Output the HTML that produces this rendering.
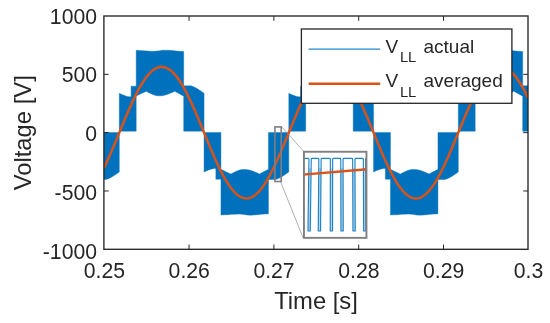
<!DOCTYPE html>
<html><head><meta charset="utf-8"><title>Voltage plot</title>
<style>
html,body{margin:0;padding:0;background:#fff;}
body{width:550px;height:323px;overflow:hidden;}
svg{display:block;font-family:"Liberation Sans",Arial,Helvetica,sans-serif;fill:#262626;}
</style></head><body>
<svg width="550" height="323" viewBox="0 0 550 323">
<rect width="550" height="323" fill="#fff"/>
<defs><clipPath id="ax"><rect x="103.9" y="16.0" width="424.1" height="233.3"/></clipPath>
<clipPath id="ins"><rect x="303.95" y="151.75" width="62.49999999999998" height="86.1"/></clipPath></defs>
<g clip-path="url(#ax)">
<path d="M34.55,132.45 L34.55,171.95 L36.52,171.04 L38.48,170.20 L40.45,169.48 L42.42,168.92 L44.38,168.57 L46.35,168.45 L46.35,179.15 L51.45,179.15 L51.45,214.95 L55.07,214.86 L58.69,214.64 L62.31,214.36 L65.93,214.14 L69.55,214.05 L72.30,214.21 L75.05,214.60 L77.80,214.99 L80.55,215.15 L84.23,215.03 L87.91,214.70 L91.59,214.30 L95.27,213.97 L98.95,213.85 L98.95,179.45 L106.05,179.45 L108.26,178.73 L110.47,177.68 L112.67,176.44 L114.88,175.08 L117.09,173.61 L119.30,172.05 L119.30,132.45 L98.95,132.45 L98.95,169.15 L96.72,170.38 L94.50,171.60 L92.28,172.82 L90.05,174.05 L87.47,172.86 L84.88,171.75 L82.30,170.80 L79.72,170.07 L77.13,169.61 L74.55,169.45 L72.37,169.61 L70.18,170.07 L68.00,170.80 L65.82,171.75 L63.63,172.86 L61.45,174.05 L58.95,172.88 L56.45,171.70 L53.95,170.53 L51.45,169.35 L51.45,132.45Z M119.30,131.15 L119.30,93.35 L121.27,94.26 L123.23,95.10 L125.20,95.82 L127.17,96.38 L129.13,96.73 L131.10,96.85 L131.10,86.15 L136.20,86.15 L136.20,50.35 L139.82,50.44 L143.44,50.66 L147.06,50.94 L150.68,51.16 L154.30,51.25 L157.05,51.09 L159.80,50.70 L162.55,50.31 L165.30,50.15 L168.98,50.27 L172.66,50.60 L176.34,51.00 L180.02,51.33 L183.70,51.45 L183.70,85.85 L190.80,85.85 L193.01,86.57 L195.22,87.62 L197.43,88.86 L199.63,90.22 L201.84,91.69 L204.05,93.25 L204.05,131.15 L183.70,131.15 L183.70,96.15 L181.47,94.93 L179.25,93.70 L177.03,92.48 L174.80,91.25 L172.22,92.44 L169.63,93.55 L167.05,94.50 L164.47,95.23 L161.88,95.69 L159.30,95.85 L157.12,95.69 L154.93,95.23 L152.75,94.50 L150.57,93.55 L148.38,92.44 L146.20,91.25 L143.70,92.43 L141.20,93.60 L138.70,94.78 L136.20,95.95 L136.20,131.15Z M204.05,132.45 L204.05,171.95 L206.02,171.04 L207.98,170.20 L209.95,169.48 L211.92,168.92 L213.88,168.57 L215.85,168.45 L215.85,179.15 L220.95,179.15 L220.95,214.95 L224.57,214.86 L228.19,214.64 L231.81,214.36 L235.43,214.14 L239.05,214.05 L241.80,214.21 L244.55,214.60 L247.30,214.99 L250.05,215.15 L253.73,215.03 L257.41,214.70 L261.09,214.30 L264.77,213.97 L268.45,213.85 L268.45,179.45 L275.55,179.45 L277.76,178.73 L279.97,177.68 L282.18,176.44 L284.38,175.08 L286.59,173.61 L288.80,172.05 L288.80,132.45 L268.45,132.45 L268.45,169.15 L266.23,170.38 L264.00,171.60 L261.78,172.82 L259.55,174.05 L256.97,172.86 L254.38,171.75 L251.80,170.80 L249.22,170.07 L246.63,169.61 L244.05,169.45 L241.87,169.61 L239.68,170.07 L237.50,170.80 L235.32,171.75 L233.13,172.86 L230.95,174.05 L228.45,172.88 L225.95,171.70 L223.45,170.53 L220.95,169.35 L220.95,132.45Z M288.80,131.15 L288.80,93.35 L290.77,94.26 L292.73,95.10 L294.70,95.82 L296.67,96.38 L298.63,96.73 L300.60,96.85 L300.60,86.15 L305.70,86.15 L305.70,50.35 L309.32,50.44 L312.94,50.66 L316.56,50.94 L320.18,51.16 L323.80,51.25 L326.55,51.09 L329.30,50.70 L332.05,50.31 L334.80,50.15 L338.48,50.27 L342.16,50.60 L345.84,51.00 L349.52,51.33 L353.20,51.45 L353.20,85.85 L360.30,85.85 L362.51,86.57 L364.72,87.62 L366.93,88.86 L369.13,90.22 L371.34,91.69 L373.55,93.25 L373.55,131.15 L353.20,131.15 L353.20,96.15 L350.98,94.93 L348.75,93.70 L346.53,92.48 L344.30,91.25 L341.72,92.44 L339.13,93.55 L336.55,94.50 L333.97,95.23 L331.38,95.69 L328.80,95.85 L326.62,95.69 L324.43,95.23 L322.25,94.50 L320.07,93.55 L317.88,92.44 L315.70,91.25 L313.20,92.43 L310.70,93.60 L308.20,94.78 L305.70,95.95 L305.70,131.15Z M373.55,132.45 L373.55,171.95 L375.52,171.04 L377.48,170.20 L379.45,169.48 L381.42,168.92 L383.38,168.57 L385.35,168.45 L385.35,179.15 L390.45,179.15 L390.45,214.95 L394.07,214.86 L397.69,214.64 L401.31,214.36 L404.93,214.14 L408.55,214.05 L411.30,214.21 L414.05,214.60 L416.80,214.99 L419.55,215.15 L423.23,215.03 L426.91,214.70 L430.59,214.30 L434.27,213.97 L437.95,213.85 L437.95,179.45 L445.05,179.45 L447.26,178.73 L449.47,177.68 L451.68,176.44 L453.88,175.08 L456.09,173.61 L458.30,172.05 L458.30,132.45 L437.95,132.45 L437.95,169.15 L435.73,170.38 L433.50,171.60 L431.28,172.82 L429.05,174.05 L426.47,172.86 L423.88,171.75 L421.30,170.80 L418.72,170.07 L416.13,169.61 L413.55,169.45 L411.37,169.61 L409.18,170.07 L407.00,170.80 L404.82,171.75 L402.63,172.86 L400.45,174.05 L397.95,172.88 L395.45,171.70 L392.95,170.53 L390.45,169.35 L390.45,132.45Z M458.30,131.15 L458.30,93.35 L460.27,94.26 L462.23,95.10 L464.20,95.82 L466.17,96.38 L468.13,96.73 L470.10,96.85 L470.10,86.15 L475.20,86.15 L475.20,50.35 L478.82,50.44 L482.44,50.66 L486.06,50.94 L489.68,51.16 L493.30,51.25 L496.05,51.09 L498.80,50.70 L501.55,50.31 L504.30,50.15 L507.98,50.27 L511.66,50.60 L515.34,51.00 L519.02,51.33 L522.70,51.45 L522.70,85.85 L529.80,85.85 L532.01,86.57 L534.22,87.62 L536.42,88.86 L538.63,90.22 L540.84,91.69 L543.05,93.25 L543.05,131.15 L522.70,131.15 L522.70,96.15 L520.48,94.93 L518.25,93.70 L516.02,92.48 L513.80,91.25 L511.22,92.44 L508.63,93.55 L506.05,94.50 L503.47,95.23 L500.88,95.69 L498.30,95.85 L496.12,95.69 L493.93,95.23 L491.75,94.50 L489.57,93.55 L487.38,92.44 L485.20,91.25 L482.70,92.43 L480.20,93.60 L477.70,94.78 L475.20,95.95 L475.20,131.15Z" fill="#0072BD" stroke="#0072BD" stroke-width="0.4" stroke-linejoin="round"/>
<path d="M103.90,168.21 L104.90,166.13 L105.90,164.01 L106.90,161.84 L107.90,159.64 L108.90,157.39 L109.90,155.12 L110.90,152.81 L111.90,150.47 L112.90,148.11 L113.90,145.73 L114.90,143.33 L115.90,140.92 L116.90,138.50 L117.90,136.06 L118.90,133.63 L119.90,131.19 L120.90,128.75 L121.90,126.32 L122.90,123.90 L123.90,121.48 L124.90,119.09 L125.90,116.71 L126.90,114.36 L127.90,112.03 L128.90,109.73 L129.90,107.46 L130.90,105.22 L131.90,103.02 L132.90,100.87 L133.90,98.75 L134.90,96.68 L135.90,94.67 L136.90,92.70 L137.90,90.79 L138.90,88.94 L139.90,87.15 L140.90,85.42 L141.90,83.75 L142.90,82.15 L143.90,80.62 L144.90,79.17 L145.90,77.78 L146.90,76.47 L147.90,75.24 L148.90,74.09 L149.90,73.02 L150.90,72.03 L151.90,71.12 L152.90,70.30 L153.90,69.56 L154.90,68.91 L155.90,68.35 L156.90,67.88 L157.90,67.49 L158.90,67.20 L159.90,66.99 L160.90,66.88 L161.90,66.85 L162.90,66.92 L163.90,67.07 L164.90,67.32 L165.90,67.66 L166.90,68.08 L167.90,68.59 L168.90,69.20 L169.90,69.88 L170.90,70.66 L171.90,71.52 L172.90,72.46 L173.90,73.49 L174.90,74.60 L175.90,75.79 L176.90,77.05 L177.90,78.40 L178.90,79.81 L179.90,81.30 L180.90,82.86 L181.90,84.49 L182.90,86.19 L183.90,87.95 L184.90,89.77 L185.90,91.64 L186.90,93.58 L187.90,95.57 L188.90,97.61 L189.90,99.70 L190.90,101.83 L191.90,104.01 L192.90,106.22 L193.90,108.47 L194.90,110.76 L195.90,113.07 L196.90,115.41 L197.90,117.78 L198.90,120.16 L199.90,122.57 L200.90,124.98 L201.90,127.41 L202.90,129.85 L203.90,132.28 L204.90,134.72 L205.90,137.16 L206.90,139.59 L207.90,142.01 L208.90,144.42 L209.90,146.81 L210.90,149.18 L211.90,151.53 L212.90,153.85 L213.90,156.15 L214.90,158.41 L215.90,160.63 L216.90,162.82 L217.90,164.97 L218.90,167.07 L219.90,169.12 L220.90,171.13 L221.90,173.08 L222.90,174.98 L223.90,176.81 L224.90,178.59 L225.90,180.31 L226.90,181.95 L227.90,183.54 L228.90,185.05 L229.90,186.49 L230.90,187.85 L231.90,189.14 L232.90,190.35 L233.90,191.48 L234.90,192.54 L235.90,193.51 L236.90,194.39 L237.90,195.19 L238.90,195.91 L239.90,196.53 L240.90,197.07 L241.90,197.53 L242.90,197.89 L243.90,198.16 L244.90,198.34 L245.90,198.44 L246.90,198.44 L247.90,198.35 L248.90,198.17 L249.90,197.90 L250.90,197.55 L251.90,197.10 L252.90,196.56 L253.90,195.94 L254.90,195.23 L255.90,194.43 L256.90,193.55 L257.90,192.59 L258.90,191.54 L259.90,190.41 L260.90,189.20 L261.90,187.92 L262.90,186.56 L263.90,185.12 L264.90,183.61 L265.90,182.04 L266.90,180.39 L267.90,178.68 L268.90,176.90 L269.90,175.07 L270.90,173.18 L271.90,171.23 L272.90,169.23 L273.90,167.17 L274.90,165.07 L275.90,162.93 L276.90,160.74 L277.90,158.52 L278.90,156.26 L279.90,153.97 L280.90,151.64 L281.90,149.30 L282.90,146.93 L283.90,144.54 L284.90,142.13 L285.90,139.71 L286.90,137.28 L287.90,134.84 L288.90,132.41 L289.90,129.97 L290.90,127.53 L291.90,125.11 L292.90,122.69 L293.90,120.28 L294.90,117.90 L295.90,115.53 L296.90,113.19 L297.90,110.87 L298.90,108.59 L299.90,106.33 L300.90,104.12 L301.90,101.94 L302.90,99.80 L303.90,97.71 L304.90,95.67 L305.90,93.68 L306.90,91.74 L307.90,89.86 L308.90,88.04 L309.90,86.27 L310.90,84.58 L311.90,82.94 L312.90,81.38 L313.90,79.89 L314.90,78.47 L315.90,77.12 L316.90,75.85 L317.90,74.66 L318.90,73.55 L319.90,72.51 L320.90,71.57 L321.90,70.70 L322.90,69.92 L323.90,69.23 L324.90,68.62 L325.90,68.10 L326.90,67.67 L327.90,67.33 L328.90,67.08 L329.90,66.92 L330.90,66.85 L331.90,66.87 L332.90,66.98 L333.90,67.19 L334.90,67.48 L335.90,67.86 L336.90,68.33 L337.90,68.88 L338.90,69.53 L339.90,70.26 L340.90,71.08 L341.90,71.98 L342.90,72.97 L343.90,74.04 L344.90,75.18 L345.90,76.41 L346.90,77.72 L347.90,79.10 L348.90,80.55 L349.90,82.07 L350.90,83.67 L351.90,85.33 L352.90,87.06 L353.90,88.85 L354.90,90.70 L355.90,92.61 L356.90,94.57 L357.90,96.58 L358.90,98.65 L359.90,100.76 L360.90,102.91 L361.90,105.11 L362.90,107.34 L363.90,109.61 L364.90,111.91 L365.90,114.24 L366.90,116.59 L367.90,118.97 L368.90,121.36 L369.90,123.77 L370.90,126.20 L371.90,128.63 L372.90,131.06 L373.90,133.50 L374.90,135.94 L375.90,138.37 L376.90,140.80 L377.90,143.21 L378.90,145.61 L379.90,148.00 L380.90,150.36 L381.90,152.69 L382.90,155.00 L383.90,157.28 L384.90,159.52 L385.90,161.73 L386.90,163.90 L387.90,166.02 L388.90,168.10 L389.90,170.13 L390.90,172.11 L391.90,174.04 L392.90,175.90 L393.90,177.71 L394.90,179.46 L395.90,181.14 L396.90,182.75 L397.90,184.30 L398.90,185.78 L399.90,187.18 L400.90,188.51 L401.90,189.76 L402.90,190.93 L403.90,192.02 L404.90,193.03 L405.90,193.96 L406.90,194.80 L407.90,195.56 L408.90,196.23 L409.90,196.82 L410.90,197.31 L411.90,197.72 L412.90,198.04 L413.90,198.26 L414.90,198.40 L415.90,198.45 L416.90,198.41 L417.90,198.27 L418.90,198.05 L419.90,197.74 L420.90,197.33 L421.90,196.84 L422.90,196.26 L423.90,195.60 L424.90,194.84 L425.90,194.00 L426.90,193.08 L427.90,192.07 L428.90,190.98 L429.90,189.82 L430.90,188.57 L431.90,187.25 L432.90,185.85 L433.90,184.38 L434.90,182.83 L435.90,181.22 L436.90,179.54 L437.90,177.80 L438.90,175.99 L439.90,174.13 L440.90,172.21 L441.90,170.23 L442.90,168.21 L443.90,166.13 L444.90,164.01 L445.90,161.84 L446.90,159.64 L447.90,157.39 L448.90,155.12 L449.90,152.81 L450.90,150.47 L451.90,148.11 L452.90,145.73 L453.90,143.33 L454.90,140.92 L455.90,138.50 L456.90,136.06 L457.90,133.63 L458.90,131.19 L459.90,128.75 L460.90,126.32 L461.90,123.90 L462.90,121.48 L463.90,119.09 L464.90,116.71 L465.90,114.36 L466.90,112.03 L467.90,109.73 L468.90,107.46 L469.90,105.22 L470.90,103.02 L471.90,100.87 L472.90,98.75 L473.90,96.68 L474.90,94.67 L475.90,92.70 L476.90,90.79 L477.90,88.94 L478.90,87.15 L479.90,85.42 L480.90,83.75 L481.90,82.15 L482.90,80.62 L483.90,79.17 L484.90,77.78 L485.90,76.47 L486.90,75.24 L487.90,74.09 L488.90,73.02 L489.90,72.03 L490.90,71.12 L491.90,70.30 L492.90,69.56 L493.90,68.91 L494.90,68.35 L495.90,67.88 L496.90,67.49 L497.90,67.20 L498.90,66.99 L499.90,66.88 L500.90,66.85 L501.90,66.92 L502.90,67.07 L503.90,67.32 L504.90,67.66 L505.90,68.08 L506.90,68.59 L507.90,69.20 L508.90,69.88 L509.90,70.66 L510.90,71.52 L511.90,72.46 L512.90,73.49 L513.90,74.60 L514.90,75.79 L515.90,77.05 L516.90,78.40 L517.90,79.81 L518.90,81.30 L519.90,82.86 L520.90,84.49 L521.90,86.19 L522.90,87.95 L523.90,89.77 L524.90,91.64 L525.90,93.58 L526.90,95.57 L527.90,97.61 L528.00,97.82" fill="none" stroke="#D95319" stroke-width="2.5" stroke-linejoin="round"/>
</g>
<path d="M189.07,249.3 v-4.8 M189.07,16.0 v4.8 M273.89,249.3 v-4.8 M273.89,16.0 v4.8 M358.71,249.3 v-4.8 M358.71,16.0 v4.8 M443.53,249.3 v-4.8 M443.53,16.0 v4.8 M103.9,74.33 h4.8 M528.0,74.33 h-4.8 M103.9,132.65 h4.8 M528.0,132.65 h-4.8 M103.9,190.98 h4.8 M528.0,190.98 h-4.8" stroke="#262626" stroke-width="1" fill="none"/>
<rect x="103.9" y="16.0" width="424.1" height="233.3" fill="none" stroke="#262626" stroke-width="1.35"/>
<g font-size="21.2px"><text x="104.40" y="277.9" text-anchor="middle">0.25</text><text x="189.22" y="277.9" text-anchor="middle">0.26</text><text x="274.04" y="277.9" text-anchor="middle">0.27</text><text x="358.86" y="277.9" text-anchor="middle">0.28</text><text x="443.68" y="277.9" text-anchor="middle">0.29</text><text x="528.50" y="277.9" text-anchor="middle">0.3</text><text x="97.0" y="24.10" text-anchor="end">1000</text><text x="97.0" y="81.92" text-anchor="end">500</text><text x="97.0" y="141.35" text-anchor="end">0</text><text x="97.0" y="200.08" text-anchor="end">-500</text><text x="97.0" y="258.80" text-anchor="end">-1000</text></g>
<text x="316" y="309" font-size="23.8px" text-anchor="middle">Time [s]</text>
<text transform="translate(31.3,132.8) rotate(-90)" font-size="23.8px" text-anchor="middle">Voltage [V]</text>
<!-- zoom marker -->
<rect x="274.9" y="126.9" width="6.3" height="54.6" fill="none" stroke="#7f7f7f" stroke-width="1.6"/>
<path d="M281.8,127 L303.2,150.8 M280.8,182.3 L303.2,238" stroke="#8c8c8c" stroke-width="0.7" fill="none"/>
<!-- inset -->
<rect x="303.0" y="150.8" width="64.39999999999998" height="88.0" fill="#fff"/>
<g clip-path="url(#ins)">
<path d="M308.80,168.3 L307.95,231.0 H310.25 L311.10,168.3Z M318.76,168.3 L318.25,231.0 H320.55 L321.06,168.3Z M330.33,168.3 L330.25,231.0 H332.55 L332.63,168.3Z M340.78,168.3 L340.95,231.0 H343.25 L343.08,168.3Z M352.70,168.3 L352.95,231.0 H355.25 L355.00,168.3Z M363.39,168.3 L363.65,231.0 H365.95 L365.69,168.3Z" fill="#0072BD" fill-opacity="0.28" stroke="none"/>
<path d="M303.95,158.3 L308.05,158.3 Q308.95,158.3 308.95,159.20000000000002 L307.95,231.0 L310.25,231.0 L311.25,159.20000000000002 Q311.25,158.3 312.15,158.3 L317.95,158.3 Q318.85,158.3 318.85,159.20000000000002 L318.25,231.0 L320.55,231.0 L321.15,159.20000000000002 Q321.15,158.3 322.05,158.3 L329.45,158.3 Q330.35,158.3 330.35,159.20000000000002 L330.25,231.0 L332.55,231.0 L332.65,159.20000000000002 Q332.65,158.3 333.55,158.3 L339.85,158.3 Q340.75,158.3 340.75,159.20000000000002 L340.95,231.0 L343.25,231.0 L343.05,159.20000000000002 Q343.05,158.3 343.95,158.3 L351.75,158.3 Q352.65,158.3 352.65,159.20000000000002 L352.95,231.0 L355.25,231.0 L354.95,159.20000000000002 Q354.95,158.3 355.85,158.3 L362.45,158.3 Q363.35,158.3 363.35,159.20000000000002 L363.65,231.0 L365.95,231.0 L365.65,159.20000000000002 Q365.65,158.3 366.55,158.3 L366.45,158.3" fill="none" stroke="#0072BD" stroke-width="1.15" stroke-opacity="0.88" stroke-linejoin="round"/>
<path d="M303,174.6 L367.3,169.3" stroke="#D95319" stroke-width="2.4" fill="none"/>
</g>
<rect x="303.95" y="151.75" width="62.49999999999998" height="86.1" fill="none" stroke="#7f7f7f" stroke-width="1.9"/>
<!-- legend -->
<rect x="301.4" y="29.0" width="210.5" height="74.3" fill="#fff" stroke="#262626" stroke-width="1.3"/>
<path d="M308.6,49.0 H380.2" stroke="#0072BD" stroke-width="1.25" stroke-opacity="0.85"/>
<path d="M308.6,83.7 H380.2" stroke="#D95319" stroke-width="2.4"/>
<g font-size="19.0px">
<text x="385.6" y="52.9">V<tspan font-size="14.8px" dx="1.6" dy="9.5">LL</tspan><tspan dy="-9.5" dx="1.9"> actual</tspan></text>
<text x="385.6" y="87.2">V<tspan font-size="14.8px" dx="1.6" dy="9.5">LL</tspan><tspan dy="-9.5" dx="1.9"> averaged</tspan></text>
</g>
</svg>
</body></html>
